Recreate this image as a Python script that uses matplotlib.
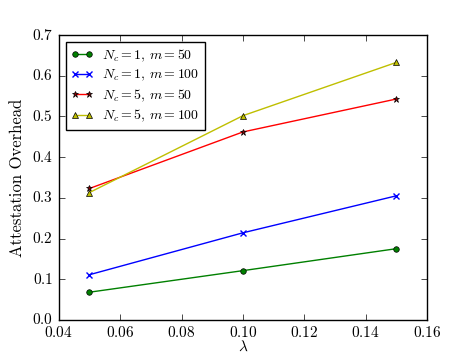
import matplotlib
matplotlib.use("Agg")
import matplotlib.pyplot as plt

plt.style.use('classic')
plt.rcParams['font.family'] = 'cmr10'
plt.rcParams['mathtext.fontset'] = 'cm'
plt.rcParams['axes.formatter.use_mathtext'] = True

lam = [0.05, 0.10, 0.15]
s1 = [0.068, 0.121, 0.175]
s2 = [0.111, 0.214, 0.305]
s3 = [0.323, 0.462, 0.543]
s4 = [0.313, 0.502, 0.633]
labels = [r'$N_c=1,\,m=50$', r'$N_c=1,\,m=100$', r'$N_c=5,\,m=50$', r'$N_c=5,\,m=100$']

fig = plt.figure(figsize=(4.74, 3.55), dpi=100, facecolor='white')
ax = fig.add_axes([0.124, 0.099, 0.777, 0.802])
ax.plot(lam, s1, 'g-o', markersize=4, label=labels[0])
ax.plot(lam, s2, 'b-x', markersize=4.5, markeredgewidth=1, label=labels[1])
ax.plot(lam, s3, 'r-*', markersize=5, markerfacecolor='#8b0000', label=labels[2])
ax.plot(lam, s4, 'y-^', markersize=4.5, label=labels[3])
ax.set_xlim(0.04, 0.16)
ax.set_ylim(0.0, 0.7)
ax.set_xlabel(r'$\lambda$', fontsize=11, labelpad=-1)
ax.set_ylabel('Attestation Overhead', fontsize=12)
ax.tick_params(labelsize=11)
ax.legend(loc='upper left', fontsize=10, numpoints=2, handlelength=1.6,
          labelspacing=0.3, borderpad=0.4, handletextpad=0.6)
fig.savefig('out.png', dpi=100, facecolor='white')
